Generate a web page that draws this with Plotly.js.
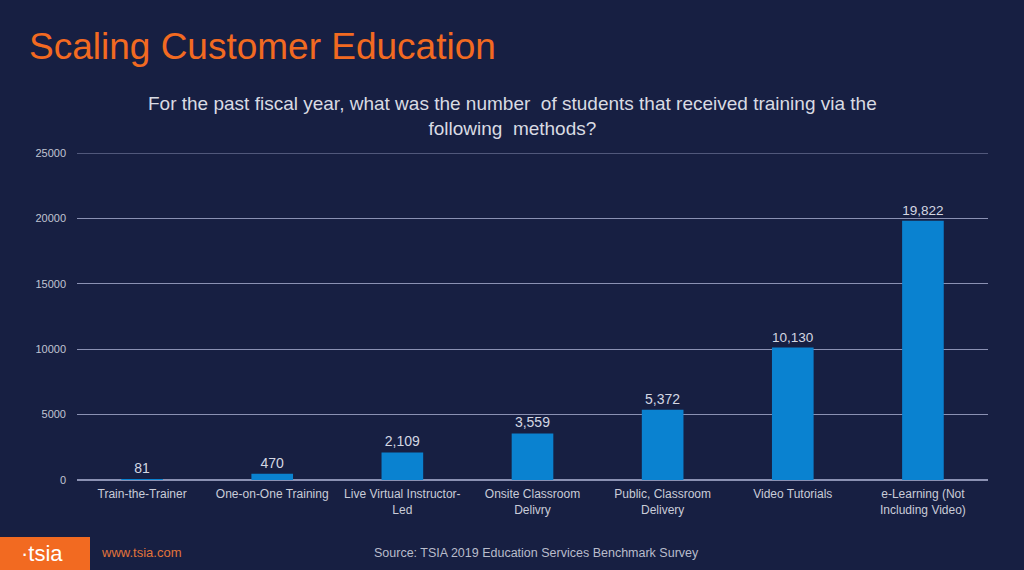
<!DOCTYPE html>
<html>
<head>
<meta charset="utf-8">
<script src="https://cdn.plot.ly/plotly-3.0.1.min.js"></script>
<style>
  html, body { margin: 0; padding: 0; background: #171f42; }
  #chart { width: 1024px; height: 570px; }
</style>
</head>
<body>
<div id="chart"></div>
<script>
  const methods = [
    "Train-the-Trainer",
    "One-on-One Training",
    "Live Virtual Instructor-<br>Led",
    "Onsite Classroom<br>Delivry",
    "Public, Classroom<br>Delivery",
    "Video Tutorials",
    "e-Learning (Not<br>Including Video)",
  ];
  const students = [81, 470, 2109, 3559, 5372, 10130, 19822];
  const yTicks = [0, 5000, 10000, 15000, 20000, 25000];

  const FONT = "Liberation Sans, Arial, sans-serif";
  const BG = "#171f42";
  const ORANGE = "#f26a21";
  const GRID = "#8b91b3";

  // plot box: x 77..988, y 153..480
  const L = 77, R = 36, T = 153, B = 90;
  const PW = 1024 - L - R, PH = 570 - T - B;
  const px = (x) => (x - L) / PW;
  const py = (y) => (570 - B - y) / PH;

  const trace = {
    type: "bar",
    x: methods,
    y: students,
    width: 0.32,
    marker: { color: "#0a82d0" },
    texttemplate: "%{y:,}",
    textposition: "outside",
    textfont: { family: FONT, size: 14, color: "#d4d7e2" },
    cliponaxis: false,
    hoverinfo: "skip",
  };

  const layout = {
    width: 1024,
    height: 570,
    paper_bgcolor: BG,
    plot_bgcolor: BG,
    margin: { l: L, r: R, t: T, b: B },
    showlegend: false,
    font: { family: FONT, color: "#c9ccd8" },
    xaxis: {
      type: "category",
      tickfont: { family: FONT, size: 12, color: "#c9ccd8" },
      showgrid: false,
      showline: false,
      ticks: "",
      ticklabelstandoff: 5,
      fixedrange: true,
    },
    yaxis: {
      range: [0, 25000],
      tickvals: yTicks,
      ticktext: yTicks.map(String),
      tickfont: { family: FONT, size: 11, color: "#c0c4d2" },
      gridcolor: GRID,
      gridwidth: 1,
      zeroline: true,
      zerolinecolor: GRID,
      zerolinewidth: 1.5,
      ticklabelstandoff: 10,
      fixedrange: true,
    },
    shapes: [
      // top gridline (Plotly skips a gridline sitting on the plot edge)
      {
        type: "line", xref: "paper", yref: "y",
        x0: 0, x1: 1, y0: yTicks[yTicks.length - 1], y1: yTicks[yTicks.length - 1],
        line: { color: GRID, width: 1 }, layer: "below",
      },
      {
        type: "rect", xref: "paper", yref: "paper",
        x0: px(0), x1: px(90), y0: py(570), y1: py(537),
        fillcolor: ORANGE, line: { width: 0 },
      },
    ],
    annotations: [
      {
        text: "Scaling Customer Education",
        xref: "paper", yref: "paper", x: px(27), y: py(24),
        xanchor: "left", yanchor: "top", showarrow: false,
        font: { family: FONT, size: 37, color: ORANGE },
      },
      {
        text: "For the past fiscal year, what was the number  of students that received training via the<br>following  methods?",
        xref: "paper", yref: "paper", x: px(512), y: py(91),
        xanchor: "center", yanchor: "top", showarrow: false, align: "center",
        font: { family: FONT, size: 19, color: "#d9dbe3" },
      },
      {
        text: "·tsia",
        xref: "paper", yref: "paper", x: px(42), y: py(553),
        xanchor: "center", yanchor: "middle", showarrow: false,
        font: { family: FONT, size: 22, color: "#ffffff" },
      },
      {
        text: "www.tsia.com",
        xref: "paper", yref: "paper", x: px(99), y: py(552),
        xanchor: "left", yanchor: "middle", showarrow: false,
        font: { family: FONT, size: 13, color: "#e0743a" },
      },
      {
        text: "Source: TSIA 2019 Education Services Benchmark Survey",
        xref: "paper", yref: "paper", x: px(536), y: py(553),
        xanchor: "center", yanchor: "middle", showarrow: false,
        font: { family: FONT, size: 12.5, color: "#b9bccb" },
      },
    ],
  };

  Plotly.newPlot("chart", [trace], layout, { displayModeBar: false, staticPlot: true });
</script>
</body>
</html>
